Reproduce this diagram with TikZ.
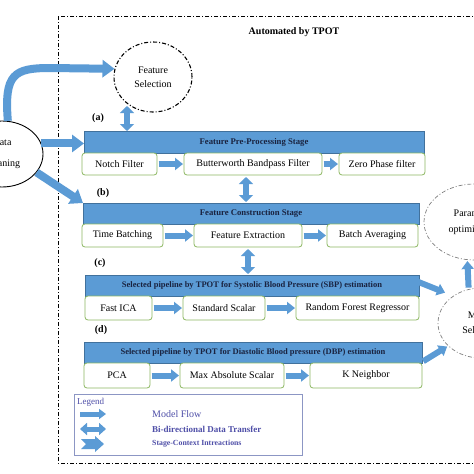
\documentclass[tikz,border=0pt]{standalone}
\usepackage{fontspec}
\setmainfont{Liberation Serif}
\usetikzlibrary{shapes.geometric,arrows.meta,calc}
\definecolor{hdrblue}{HTML}{5B9BD5}
\definecolor{hdrline}{HTML}{41719C}
\definecolor{hdrtext}{HTML}{1A2340}
\definecolor{boxgreen}{HTML}{8DB862}
\definecolor{arrblue}{HTML}{5B9BD5}
\definecolor{legtext}{HTML}{4F4FA8}
\definecolor{legline}{HTML}{8C96C4}
\begin{document}
\begin{tikzpicture}[x=1pt,y=-1pt,
  hdr/.style={draw=hdrline, fill=hdrblue, line width=0.6pt, anchor=north west, minimum height=22pt, inner sep=0pt, outer sep=0pt, text=hdrtext, font=\bfseries\fontsize{8.7}{10}\selectfont},
  hdrsm/.style={hdr, font=\bfseries\fontsize{8.5}{9}\selectfont},
  stagebox/.style={draw=boxgreen, fill=white, line width=0.8pt, rounded corners=3pt, anchor=north west, minimum height=23pt, inner sep=0pt, outer sep=0pt, font=\fontsize{10}{12}\selectfont},
  flow/.style={draw=arrblue, line width=6pt, -{Triangle[length=8pt,width=12pt]}, shorten <=1.5pt, shorten >=1pt},
  bigflow/.style={draw=arrblue, line width=8pt, -{Triangle[length=12pt,width=17pt]}},
  bidir/.style={draw=arrblue, line width=6pt, {Triangle[length=7pt,width=14pt]}-{Triangle[length=7pt,width=14pt]}},
  dashdot/.style={dash pattern=on 4pt off 2pt on 1pt off 2pt},
  lbl/.style={font=\bfseries\fontsize{10}{12}\selectfont},
  cloud/.style={ellipse, draw=gray, line width=0.7pt, dashdot, align=center, inner sep=0pt, font=\fontsize{10}{16}\selectfont},
  legt/.style={anchor=west, text=legtext, inner sep=0pt}
]
\useasboundingbox (0,0) rectangle (474,474);
\fill[white] (0,0) rectangle (474,474);

% outer automated box
\draw[line width=0.9pt, dashdot] (58,16) rectangle (492,463);
\node[font=\bfseries\fontsize{10}{12}\selectfont] (auto) at (294,32) {Automated by TPOT};

% left and top ellipses
\node[ellipse, draw, line width=0.9pt, minimum width=82pt, minimum height=66pt, align=center, inner sep=0pt, font=\fontsize{10}{21}\selectfont] (dc) at (2,154) {Data\\Cleaning};
\node[ellipse, draw, line width=1.1pt, dashdot, minimum width=78pt, minimum height=70pt, align=center, inner sep=0pt, font=\fontsize{10}{14}\selectfont] (fs) at (153,77) {Feature\\Selection};

% right ellipses
\node[cloud, minimum width=100pt, minimum height=76pt] (po) at (474,222) {Parameter\\optimization};
\node[cloud, minimum width=86pt, minimum height=70pt, font=\fontsize{10}{15}\selectfont] (ms) at (481,323) {Model\\Selection};

% stage (a)
\node[lbl] (la) at (98,118) {(a)};
\node[hdr, minimum width=340pt] (hA) at (84,131) {Feature Pre-Processing Stage};
\node[stagebox, minimum width=75pt, minimum height=22pt] (notch) at (82,153) {Notch Filter};
\node[stagebox, minimum width=138pt, minimum height=22pt] (butter) at (184,153) {Butterworth Bandpass Filter};
\node[stagebox, minimum width=86pt, minimum height=22pt] (zero) at (339,153) {Zero Phase filter};

% stage (b)
\node[lbl] (lb) at (103,193) {(b)};
\node[hdr, minimum width=336pt, minimum height=21pt] (hB) at (83,203) {Feature Construction Stage};
\node[stagebox, minimum width=81pt] (tb) at (82,224) {Time Batching};
\node[stagebox, minimum width=108pt] (fext) at (194,224) {Feature Extraction};
\node[stagebox, minimum width=91pt] (bavg) at (327,224) {Batch Averaging};

% stage (c)
\node[lbl] (lc) at (100,263) {(c)};
\node[hdrsm, minimum width=334pt, minimum height=21pt] (hC) at (85,275) {Selected pipeline by TPOT for Systolic Blood Pressure (SBP) estimation};
\node[stagebox, minimum width=67pt, minimum height=24pt] (fica) at (85,296) {Fast ICA};
\node[stagebox, minimum width=82pt, minimum height=24pt] (ss) at (183,296) {Standard Scalar};
\node[stagebox, minimum width=123pt, minimum height=24pt] (rfr) at (296,296) {Random Forest Regressor};

% stage (d)
\node[lbl] (ld) at (101,330) {(d)};
\node[hdrsm, minimum width=338pt, minimum height=21pt] (hD) at (84,342) {Selected pipeline by TPOT for Diastolic Blood pressure (DBP) estimation};
\node[stagebox, minimum width=66pt, minimum height=25pt] (pca) at (84,363) {PCA};
\node[stagebox, minimum width=104pt, minimum height=25pt] (mas) at (180,363) {Max Absolute Scalar};
\node[stagebox, minimum width=112pt, minimum height=25pt] (knn) at (310,363) {K Neighbor};

% flows inside stages
\draw[flow] (notch.east) -- (butter.west);
\draw[flow] (butter.east) -- (zero.west);
\draw[flow] (tb.east) -- (fext.west);
\draw[flow] (fext.east) -- (bavg.west);
\draw[flow] (fica.east) -- (ss.west);
\draw[flow] (ss.east) -- (rfr.west);
\draw[flow] (pca.east) -- (mas.west);
\draw[flow] (mas.east) -- (knn.west);

% bidirectional links
\coordinate (fsb) at (127,106);
\draw[bidir] (fsb) -- (fsb |- hA.north);
\coordinate (bub) at ($(butter.south)+(-7,2)$);
\draw[bidir] (bub) -- ($(bub |- hB.north)+(0,-1)$);
\draw[bidir] ($(fext.south)+(0,2)$) -- ($(fext.south |- hC.north)+(0,-1)$);

% data cleaning flows
\draw[bigflow] (dc.80) .. controls (4,74) and (14,68) .. (50,68) -- (fs.168);
\draw[bigflow] (dc.15) -- (dc.15 -| hA.west);
\draw[bigflow] (dc.-28) -- (hB.north west);

% to model selection
\coordinate (msin1) at (446,293);
\coordinate (msin2) at (448,346);
\draw[flow] ($(hC.north east)+(-3,6)$) -- (msin1);
\draw[flow] ($(hD.south east)+(0,-1)$) -- (msin2);
\draw[flow] (ms.110) -- (po.260);

% legend
\node[draw=legline, line width=0.8pt, anchor=north west, minimum width=228pt, minimum height=61pt, inner sep=0pt, outer sep=0pt] (leg) at (74,394) {};
\node[legt, font=\fontsize{9}{10}\selectfont] (legtitle) at (77,402) {Legend};
\coordinate (i1a) at (80,414); \coordinate (i1b) at (106,414);
\draw[draw=arrblue, line width=5pt, -{Triangle[length=7pt,width=10pt]}] (i1a) -- (i1b);
\coordinate (i2a) at (80,429); \coordinate (i2b) at (106,429);
\draw[draw=arrblue, line width=5pt, {Triangle[length=7pt,width=12pt]}-{Triangle[length=7pt,width=12pt]}] (i2a) -- (i2b);
\fill[arrblue] (81,439) -- (95,439) -- (95,436) -- (104,444) -- (95,452) -- (95,449) -- (81,449) -- (86,444) -- cycle;
\node[legt, font=\fontsize{10}{12}\selectfont] (t1) at (152,414) {Model Flow};
\node[legt, font=\bfseries\fontsize{9}{11}\selectfont] (t2) at (152,429) {Bi-directional Data Transfer};
\node[legt, font=\bfseries\fontsize{7.8}{9}\selectfont] (t3) at (152,444) {Stage-Context Intreactions};
\end{tikzpicture}
\end{document}
